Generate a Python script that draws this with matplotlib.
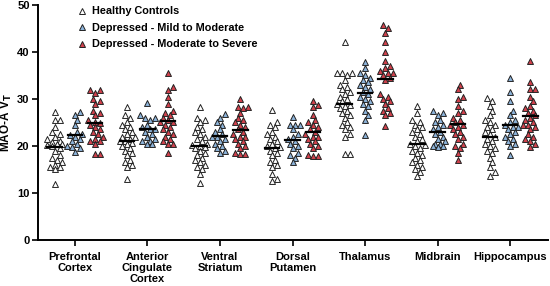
import numpy as np
import matplotlib
matplotlib.use("Agg")
import matplotlib.pyplot as plt
from matplotlib.lines import Line2D

plt.rcParams["font.family"] = ["Liberation Sans", "DejaVu Sans"]
plt.rcParams["font.weight"] = "bold"

regions = ["Prefrontal\nCortex", "Anterior\nCingulate\nCortex", "Ventral\nStriatum",
           "Dorsal\nPutamen", "Thalamus", "Midbrain", "Hippocampus"]
groups = ["Healthy Controls", "Depressed - Mild to Moderate", "Depressed - Moderate to Severe"]
colors = ["white", "#8db4db", "#d2414c"]

healthy = [
    [27.3, 25.5, 25.5, 24, 23, 22.5, 22, 21.5, 21, 20.8, 20.5, 20.5, 20.3, 20, 19.5, 19,
     18, 17.5, 17, 16.5, 16, 15.5, 15.5, 15, 12],
    [28.3, 26.5, 26, 25, 24.5, 24, 23.5, 23, 22.5, 22, 21.8, 21.5, 21, 21, 20.7, 20.5, 20,
     19.5, 19, 18.5, 18, 17, 16.5, 16, 15.5, 13],
    [28.3, 26, 25.5, 25, 24, 23.5, 23, 22.5, 22, 21.5, 21, 20.5, 20.2, 20, 19.8, 19.5, 19,
     18.5, 18, 17.5, 17, 16.5, 16, 15.5, 15, 14, 12.2],
    [27.7, 25, 24.5, 24, 23, 22.5, 22, 21.5, 21, 20.5, 20, 19.8, 19.5, 19, 18.5, 18, 17,
     16.5, 16, 15.5, 14, 13, 12.5],
    [42.1, 35.5, 35.5, 35.5, 35, 34, 33, 32.5, 32, 31.5, 31, 30.5, 30, 29.5, 29, 28.8, 28.5,
     28, 27.5, 27, 26.5, 26, 25, 24.5, 24, 23.5, 22.5, 22, 18.3, 18.3],
    [28.5, 27, 25.5, 25, 24.5, 24, 23.5, 23, 22.5, 22, 21.5, 21, 20.5, 20.3, 20, 19.5, 19,
     18.5, 18, 17.5, 17, 16.5, 16, 15.5, 15, 14.5, 13.5],
    [30.2, 29.5, 28.5, 27.5, 26.5, 25.5, 25, 24.5, 24, 23.5, 23, 22.5, 22, 21.5, 21, 20.5,
     20, 19.5, 19, 18.5, 17.5, 16.5, 15.5, 14.5, 13.7],
]
mild = [
    [27.2, 26.5, 25.5, 24.5, 23, 22.5, 22.3, 22, 21.5, 21, 20.5, 20, 19.8, 19.5, 18.8],
    [29.2, 26.5, 26, 26, 25.5, 24.5, 24, 23.5, 23.5, 23, 22.5, 22, 21.5, 21, 21, 20.5, 20.5],
    [26.8, 26, 25, 24.5, 23.5, 23, 22.5, 22, 22, 21.5, 21, 20.5, 20, 19.5, 19, 18.5],
    [26.1, 24.5, 24.5, 24.5, 23.5, 22.5, 22, 21.5, 21, 20.5, 20, 19.5, 18.5, 18, 17.5, 16.5],
    [37.9, 36.5, 35.5, 35, 34.5, 34, 33.5, 33, 32.5, 32, 31.5, 31, 30.5, 30, 29.5, 29, 28.5,
     27.5, 26.5, 25.5, 22.3],
    [27.4, 27, 26.5, 25.5, 25, 24.5, 24, 23.5, 23, 22.5, 22, 21.5, 21, 20.5, 20.5, 20, 20,
     19.8],
    [34.5, 31.5, 29.5, 27.5, 26.5, 25.5, 25, 24.5, 24, 24, 23.5, 23, 22.5, 22, 21.5, 21,
     20.5, 20, 18],
]
severe = [
    [31.8, 31.8, 31.2, 30, 29.5, 29, 27.5, 27, 26.5, 25.5, 25, 24.8, 24.5, 24, 23.5, 23,
     22.5, 22, 21.5, 21, 21, 20.5, 18.2, 18.2],
    [35.5, 32.5, 31.8, 30.5, 29, 27.5, 27, 26.5, 26, 25.5, 25, 25, 24.5, 24, 23.5, 23,
     22.5, 22, 21.5, 21, 20.5, 20.5, 18.5],
    [30, 28.3, 28.3, 28, 27, 26, 25.5, 25, 24.5, 24, 23.5, 23, 22.5, 22, 22, 21.5, 21, 20.5,
     20, 19.5, 18.5, 18.3, 18.3],
    [29.6, 28.8, 28.2, 26.5, 25.5, 25, 24.5, 24, 23.5, 23, 22.5, 22, 22, 21.5, 21, 20.5, 20,
     19.5, 18, 17.8, 17.8],
    [45.7, 45, 44, 42, 40, 38, 37, 36.5, 36, 35.5, 35.5, 35, 34.5, 34, 31, 30.5, 30, 29.5,
     29, 28, 27.5, 27, 26.5, 24.2],
    [33, 32, 30.5, 30, 28.5, 27.5, 27, 26, 25.5, 25, 24.5, 24.5, 24, 23.5, 23, 22.5, 22,
     21.5, 20.5, 20, 19.5, 18.5, 17],
    [38, 33.5, 32, 32, 30.5, 29.5, 28.5, 28, 27.5, 27, 26.5, 26, 25.5, 25, 24.5, 24.5, 24,
     23.5, 22.5, 22, 21.5, 21, 20.5, 19.8],
]


def swarm(values, xscale, yscale, size, maxoff=9):
    # simple beeswarm in pixel space, capped width (points may overlap)
    placed = []
    offsets = np.zeros(len(values))
    order = np.argsort(values)
    cands = [0.0]
    k = 1
    while k * size / 2 <= maxoff:
        cands += [k * size / 2, -k * size / 2]
        k += 1
    for i in order:
        y = values[i] * yscale
        best, best_d = cands[0], -1
        for c in cands:
            d = min([(c - px) ** 2 + (y - py) ** 2 for px, py in placed] or [1e9])
            if d >= size ** 2:
                best = c
                break
            if d > best_d:
                best, best_d = c, d
        placed.append((best, y))
        offsets[i] = best / xscale
    return offsets


fig = plt.figure(figsize=(5.5, 2.86), dpi=100)
ax = fig.add_axes([0.069, 0.161, 0.927, 0.822])

xscale = 72.5  # px per category
yscale = 4.7   # px per unit
shift = [-0.28, 0.0, 0.28]
for g, data in enumerate([healthy, mild, severe]):
    for i, vals in enumerate(data):
        vals = np.array(vals, dtype=float)
        xs = i + shift[g] + swarm(vals, xscale, yscale, 5.0)
        ax.scatter(xs, vals, marker="^", s=18, facecolor=colors[g],
                   edgecolor="#222222", linewidth=0.7, zorder=2)
        m = vals.mean()
        ax.plot([i + shift[g] - 0.1, i + shift[g] + 0.1], [m, m], color="black",
                lw=1.6, zorder=3)

ax.set_xlim(-0.51, 6.52)
ax.set_ylim(0, 50)
ax.set_yticks(range(0, 51, 10))
ax.set_xticks(range(len(regions)))
ax.set_xticklabels(regions, fontsize=8, fontweight="bold", linespacing=1.1)
ax.tick_params(axis="y", labelsize=8, length=4.5, width=1.2, pad=1.5)
ax.tick_params(axis="x", length=4, width=1.2, pad=5)
for s in ["top", "right"]:
    ax.spines[s].set_visible(False)
for s in ["left", "bottom"]:
    ax.spines[s].set_linewidth(1.4)
ax.set_ylabel("MAO-A V$_\\mathbf{T}$", fontsize=8.5, fontweight="bold")
ax.yaxis.set_label_coords(-0.046, 0.5)

handles = [Line2D([], [], marker="^", ls="none", markersize=5, markerfacecolor=c,
                  markeredgecolor="#222222", markeredgewidth=0.7) for c in colors]
ax.legend(handles, groups, loc="upper left", bbox_to_anchor=(0.055, 1.035), frameon=False,
          prop={"size": 7.8, "weight": "bold"}, handletextpad=0.3, labelspacing=0.6,
          handlelength=1.2)

fig.savefig("out.png", dpi=100)
